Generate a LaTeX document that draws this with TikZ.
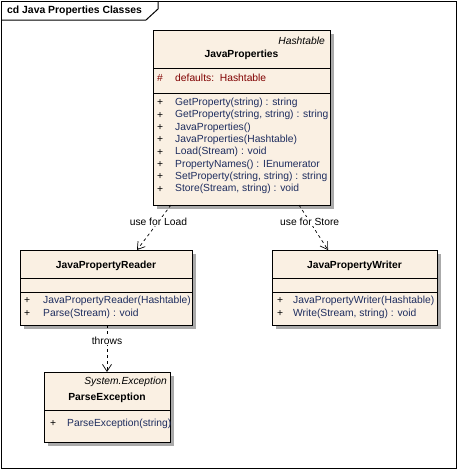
\documentclass[tikz,border=0pt]{standalone}
\usepackage{fontspec}
\setmainfont{Liberation Sans}
\usetikzlibrary{arrows.meta,shadows}
\definecolor{classfill}{RGB}{250,240,227}
\definecolor{opcol}{RGB}{30,45,95}
\definecolor{attcol}{RGB}{128,0,0}
\definecolor{shadowc}{RGB}{170,170,170}
\begin{document}
\begin{tikzpicture}[x=1pt,y=-1pt,
  font=\fontsize{10.3}{12}\selectfont,
  classbox/.style={draw=black,line width=1pt,fill=classfill,inner sep=0pt,outer sep=0pt,anchor=north west,
    drop shadow={shadow xshift=4pt,shadow yshift=-4pt,fill=shadowc,opacity=1}},
  sep/.style={draw=black,line width=0.8pt},
  txt/.style={anchor=west,inner sep=0pt,text=black},
  op/.style={anchor=west,inner sep=0pt,text=opcol},
  att/.style={anchor=west,inner sep=0pt,text=attcol},
  cname/.style={inner sep=0pt,font=\fontsize{10.3}{12}\selectfont\bfseries},
  stereo/.style={anchor=east,inner sep=0pt,font=\fontsize{10.3}{12}\selectfont\itshape},
  dep/.style={draw=black,line width=0.7pt,dash pattern=on 3pt off 3pt,-{Straight Barb[length=7pt,width=9pt,line width=0.7pt]}},
  lbl/.style={inner sep=1pt,fill=white}
]
\useasboundingbox (0,0) rectangle (457,469);
\fill[white] (0,0) rectangle (457,469);
% frame
\draw[line width=1pt] (1,1) rectangle (456,468);
\draw[line width=1pt] (1,20) -- (146,20) -- (158,9) -- (158,1);
\node[txt,font=\fontsize{10.4}{12}\selectfont\bfseries] (title) at (7,11) {cd Java Properties Classes};

% JavaProperties
\node[classbox,minimum width=177pt,minimum height=175pt] (jp) at (153,30) {};
\node[stereo] (jpst) at (325,41) {Hashtable};
\node[cname] (jpn) at (241.5,55) {JavaProperties};
\draw[sep] ([yshift=-38pt]jp.north west) -- ([yshift=-38pt]jp.north east);
\node[att] (jpah) at (157,78) {\#};
\node[att] (jpa) at (175,78) {defaults:\ \ Hashtable};
\draw[sep] ([yshift=-63pt]jp.north west) -- ([yshift=-63pt]jp.north east);
\node[txt] (p1) at (157,103) {+};
\node[op] (o1) at (175,103) {GetProperty(string) : string};
\node[txt] (p2) at (157,115.3) {+};
\node[op] (o2) at (175,115.3) {GetProperty(string, string) : string};
\node[txt] (p3) at (157,127.6) {+};
\node[op] (o3) at (175,127.6) {JavaProperties()};
\node[txt] (p4) at (157,139.9) {+};
\node[op] (o4) at (175,139.9) {JavaProperties(Hashtable)};
\node[txt] (p5) at (157,152.2) {+};
\node[op] (o5) at (175,152.2) {Load(Stream) : void};
\node[txt] (p6) at (157,164.5) {+};
\node[op] (o6) at (175,164.5) {PropertyNames() : IEnumerator};
\node[txt] (p7) at (157,176.8) {+};
\node[op] (o7) at (175,176.8) {SetProperty(string, string) : string};
\node[txt] (p8) at (157,189.1) {+};
\node[op] (o8) at (175,189.1) {Store(Stream, string) : void};

% JavaPropertyReader
\node[classbox,minimum width=172pt,minimum height=75pt] (rd) at (20,250) {};
\node[cname] (rdn) at (106,265.5) {JavaPropertyReader};
\draw[sep] ([yshift=-28pt]rd.north west) -- ([yshift=-28pt]rd.north east);
\draw[sep] ([yshift=-42pt]rd.north west) -- ([yshift=-42pt]rd.north east);
\node[txt] (rp1) at (24,301) {+};
\node[op] (ro1) at (43,301) {JavaPropertyReader(Hashtable)};
\node[txt] (rp2) at (24,313.5) {+};
\node[op] (ro2) at (43,313.5) {Parse(Stream) : void};

% JavaPropertyWriter
\node[classbox,minimum width=165pt,minimum height=75pt] (wr) at (272,250) {};
\node[cname] (wrn) at (354.5,265.5) {JavaPropertyWriter};
\draw[sep] ([yshift=-28pt]wr.north west) -- ([yshift=-28pt]wr.north east);
\draw[sep] ([yshift=-42pt]wr.north west) -- ([yshift=-42pt]wr.north east);
\node[txt] (wp1) at (277,301) {+};
\node[op] (wo1) at (293,301) {JavaPropertyWriter(Hashtable)};
\node[txt] (wp2) at (277,313.5) {+};
\node[op] (wo2) at (293,313.5) {Write(Stream, string) : void};

% ParseException
\node[classbox,minimum width=126pt,minimum height=70pt] (pe) at (44,372) {};
\node[stereo] (pest) at (167,382) {System.Exception};
\node[cname] (pen) at (107,398) {ParseException};
\draw[sep] ([yshift=-38pt]pe.north west) -- ([yshift=-38pt]pe.north east);
\node[txt] (pp1) at (50,424) {+};
\node[op] (po1) at (67,424) {ParseException(string)};

% connectors
\draw[dep] ([xshift=18pt]jp.south west) -- node[lbl,pos=0.37] (l1) {use for Load} ([xshift=117pt]rd.north west);
\draw[dep] ([xshift=146pt]jp.south west) -- node[lbl,pos=0.37] (l2) {use for Store} ([xshift=56pt]wr.north west);
\draw[dep] ([xshift=87pt]rd.south west) -- node[lbl,pos=0.33] (l3) {throws} ([xshift=63pt]pe.north west);
\end{tikzpicture}
\end{document}
